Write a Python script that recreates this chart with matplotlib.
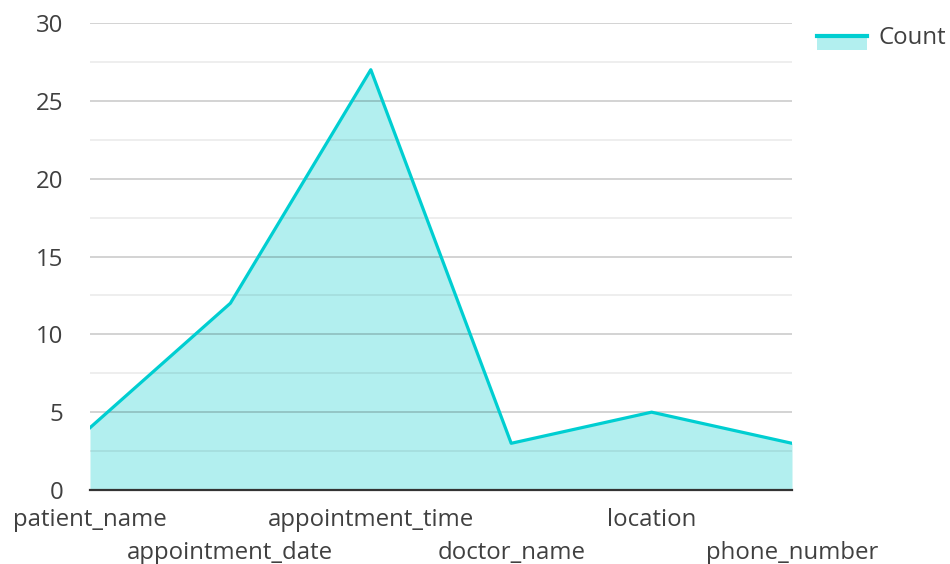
import matplotlib.pyplot as plt
from matplotlib.ticker import MultipleLocator
from matplotlib.patches import Rectangle
from matplotlib.lines import Line2D
from matplotlib.legend_handler import HandlerBase

categories = ['patient_name', 'appointment_date', 'appointment_time',
              'doctor_name', 'location', 'phone_number']
counts = [4, 12, 27, 3, 5, 3]

plt.rcParams['font.family'] = ['Open Sans', 'DejaVu Sans']

line_color = '#00CED1'
fill_color = '#B2EFEF'
text_color = '#404040'
fs = 17.3


class AreaHandler(HandlerBase):
    # filled box with the line drawn along its top edge
    def create_artists(self, legend, orig_handle, xdescent, ydescent,
                       width, height, fontsize, trans):
        yl = -ydescent + height * 0.5
        box = Rectangle((-xdescent, yl - height * 0.85), width, height * 0.85,
                        facecolor=fill_color, edgecolor='none', transform=trans)
        ln = Line2D([-xdescent, -xdescent + width], [yl, yl],
                    color=line_color, linewidth=3, transform=trans)
        return [box, ln]


fig = plt.figure(figsize=(9.5, 5.64), dpi=100)
ax = fig.add_axes([90 / 950, 74 / 564, 702 / 950, 467 / 564])

x = list(range(len(categories)))
ax.fill_between(x, counts, 0, color=fill_color, zorder=1, linewidth=0)
ax.plot(x, counts, color=line_color, linewidth=2.3, zorder=3)

ax.set_xlim(0, len(categories) - 1)
ax.set_ylim(0, 30)
ax.yaxis.set_major_locator(MultipleLocator(5))
ax.yaxis.set_minor_locator(MultipleLocator(2.5))
ax.grid(True, which='major', axis='y', color='#000000', alpha=0.2, linewidth=1.2, zorder=2)
ax.grid(True, which='minor', axis='y', color='#000000', alpha=0.08, linewidth=1.2, zorder=2)

for side in ['top', 'right', 'left']:
    ax.spines[side].set_visible(False)
ax.spines['bottom'].set_color('#333333')
ax.spines['bottom'].set_linewidth(1.6)
ax.spines['bottom'].set_zorder(4)

ax.set_xticks(x)
ax.set_xticklabels(categories)
ax.tick_params(axis='both', which='both', length=0, labelsize=fs, labelcolor=text_color)
ax.tick_params(axis='y', pad=19)
for i, t in enumerate(ax.xaxis.get_major_ticks()):
    t.set_pad(13 if i % 2 == 0 else 37)

leg = fig.legend([object()], ['Count'], loc='upper left',
                 bbox_to_anchor=(817 / 950, 1 - 26 / 564),
                 frameon=False, fontsize=fs, handlelength=2.1, handletextpad=0.45,
                 borderpad=0, borderaxespad=0,
                 handler_map={object: AreaHandler()})
for t in leg.get_texts():
    t.set_color(text_color)

fig.savefig('out.png', dpi=100)
